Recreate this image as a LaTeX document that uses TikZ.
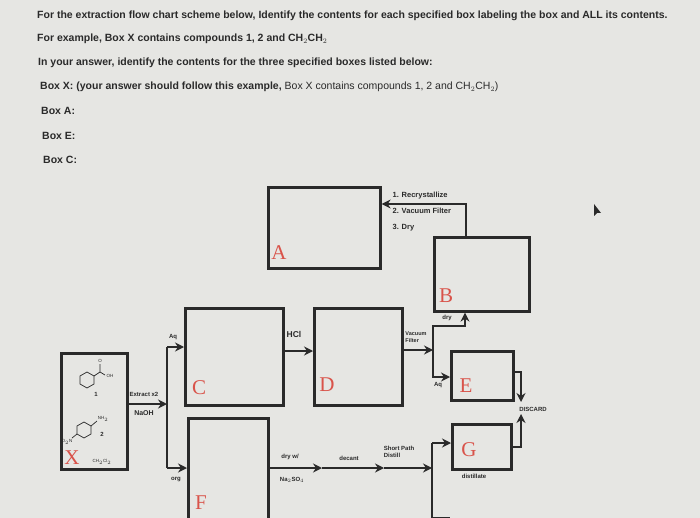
\documentclass[tikz,border=0pt]{standalone}
\usepackage{fontspec}
\setmainfont{Liberation Sans}
\usetikzlibrary{arrows.meta}
\definecolor{bg}{HTML}{E6E6E3}
\definecolor{ink}{HTML}{2A2A2A}
\definecolor{lred}{HTML}{D9534A}
\begin{document}
\begin{tikzpicture}[x=1pt,y=-1pt,
  box/.style={draw=ink,line width=2.6pt,inner sep=0pt,anchor=north west},
  arr/.style={draw=ink,line width=2.6pt,-{Stealth[length=9pt,width=9pt]}},
  ln/.style={draw=ink,line width=2.6pt},
  let/.style={text=lred,font=\fontspec{Liberation Serif}\fontsize{21}{21}\selectfont},
  sm/.style={font=\fontsize{6}{7}\selectfont\bfseries,text=ink,inner sep=0.5pt},
  q/.style={anchor=base west,font=\fontsize{10.5}{12}\selectfont\bfseries,text=ink,inner sep=0pt}]
\fill[bg] (0,0) rectangle (700,518);
\useasboundingbox (0,0) rectangle (700,518);
% question text
\node[q] (t1) at (37,19) {For the extraction flow chart scheme below, Identify the contents for each specified box labeling the box and ALL its contents.};
\node[q] (t2) at (37,42) {For example, Box X contains compounds 1, 2 and CH$_2$CH$_2$};
\node[q] (t3) at (38,66) {In your answer, identify the contents for the three specified boxes listed below:};
\node[q] (t4) at (40,90) {Box X: (your answer should follow this example, \mdseries Box X contains compounds 1, 2 and CH$_2$CH$_2$)};
\node[q] (t5) at (41,115) {Box A:};
\node[q] (t6) at (42,140) {Box E:};
\node[q] (t7) at (43,164) {Box C:};
% boxes
\node[box,minimum width=66pt,minimum height=116pt] (X) at (60,352) {};
\node[box,minimum width=98pt,minimum height=97pt] (C) at (184,307) {};
\node[box,minimum width=80pt,minimum height=110pt] (F) at (187,417) {};
\node[box,minimum width=88pt,minimum height=97pt] (D) at (313,307) {};
\node[box,minimum width=112pt,minimum height=81pt] (A) at (267,186) {};
\node[box,minimum width=95pt,minimum height=74pt] (B) at (433,236) {};
\node[box,minimum width=62pt,minimum height=49pt] (E) at (450,350) {};
\node[box,minimum width=59pt,minimum height=45pt] (G) at (451,423) {};
% letters
\node[let] (lA) at (279,253) {A};
\node[let] (lB) at (446,296) {B};
\node[let] (lC) at (199,388) {C};
\node[let] (lD) at (327,385) {D};
\node[let] (lE) at (466,386) {E};
\node[let] (lG) at (469,450) {G};
\node[let] (lF) at (201,503) {F};
\node[let] (lX) at (72,458) {X};
% molecules in X
\draw[ink,line width=0.7pt] (80,376) -- (87,372) -- (94,376) -- (94,384) -- (87,388) -- (80,384) -- cycle;
\draw[ink,line width=0.7pt] (94,376) -- (100,372) -- (100,364) (100,372) -- (105,375);
\node[sm,font=\fontsize{4.5}{5}\selectfont] (oO) at (100,361) {O};
\node[sm,font=\fontsize{4.5}{5}\selectfont] (oH) at (110,376) {OH};
\node[sm] (n1) at (96,394) {1};
\draw[ink,line width=0.7pt] (77,426) -- (84,422) -- (91,426) -- (91,434) -- (84,438) -- (77,434) -- cycle;
\draw[ink,line width=0.7pt] (91,426) -- (97,421) (77,434) -- (72,438);
\node[sm,font=\fontsize{4.5}{5}\selectfont] (nh) at (103,419) {NH$_2$};
\node[sm] (n2) at (102,434) {2};
\node[sm,font=\fontsize{4.5}{5}\selectfont] (no) at (67,442) {O$_2$N};
\node[sm,font=\fontsize{4.5}{5}\selectfont] (cl) at (102,462) {CH$_2$Cl$_2$};
% junctions
\coordinate (j0) at (167,404);
\coordinate (j0t) at (167,347);
\coordinate (j0b) at (167,468);
\coordinate (j1) at (433,350);
\coordinate (j1t) at (433,326);
\coordinate (j1e) at (465,326);
\coordinate (j1b) at (433,377);
\coordinate (bA) at (466,204);
\coordinate (m1) at (322,468);
\coordinate (m2) at (384,468);
\coordinate (j2) at (432,468);
\coordinate (j2t) at (432,443);
\coordinate (j2b) at (432,518);
\coordinate (j2r) at (450,518);
\coordinate (ge) at (521,447);
\coordinate (ee) at (521,372);
\coordinate (dsA) at (521,402);
\coordinate (dsB) at (521,414);
\coordinate (cd) at (300,351);
% connectors
\draw[arr] (j0 -| X.east) -- (j0);
\draw[ln] (j0t) -- (j0b);
\draw[arr] (j0t) -- (j0t -| C.west);
\draw[arr] (j0b) -- (j0b -| F.west);
\draw[arr] (cd -| C.east) -- (cd -| D.west);
\draw[arr] (j1 -| D.east) -- (j1);
\draw[arr] (j1) -- (j1t) -- (j1e) -- (j1e |- B.south);
\draw[arr] (j1) -- (j1b) -- (j1b -| E.west);
\draw[arr] (bA |- B.north) -- (bA) -- (bA -| A.east);
\draw[arr] (F.east |- m1) -- (m1);
\draw[arr] (m1) -- (m2);
\draw[arr] (m2) -- (j2);
\draw[ln] (j2t) -- (j2b) -- (j2r);
\draw[arr] (j2t) -- (j2t -| G.west);
\draw[arr] (ee -| E.east) -- (ee) -- (dsA);
\draw[arr] (ge -| G.east) -- (ge) -- (dsB);
% labels
\node[sm] (lbA) at (173,337) {Aq};
\node[sm] (lbo) at (176,480) {org};
\node[sm] (lbE) at (144,394) {Extract x2};
\node[sm,font=\fontsize{7}{8}\selectfont\bfseries] (lbN) at (144,413) {NaOH};
\node[sm,font=\fontsize{8.5}{9}\selectfont\bfseries] (lbH) at (294,334) {HCl};
\node[sm,align=left,font=\fontsize{5.5}{7}\selectfont\bfseries] (lbV) at (416,337) {Vacuum\\Filter};
\node[sm] (lbd) at (447,318) {dry};
\node[sm] (lbq) at (438,385) {Aq};
\node[sm,align=left,anchor=west,font=\fontsize{7.5}{16}\selectfont\bfseries] (lbR) at (392,212) {1. Recrystallize\\2. Vacuum Filter\\3. Dry};
\node[sm] (lbw) at (290,457) {dry w/};
\node[sm] (lbs) at (292,480) {Na$_2$SO$_4$};
\node[sm] (lbdc) at (349,458) {decant};
\node[sm,align=left] (lbsp) at (399,452) {Short Path\\Distill};
\node[sm] (lbdi) at (474,476) {distillate};
\node[sm] (lbdx) at (533,409) {DISCARD};
% cursor
\fill[ink] (594,204) -- (594,216) -- (597,213) -- (601,213) -- cycle;
\end{tikzpicture}
\end{document}
